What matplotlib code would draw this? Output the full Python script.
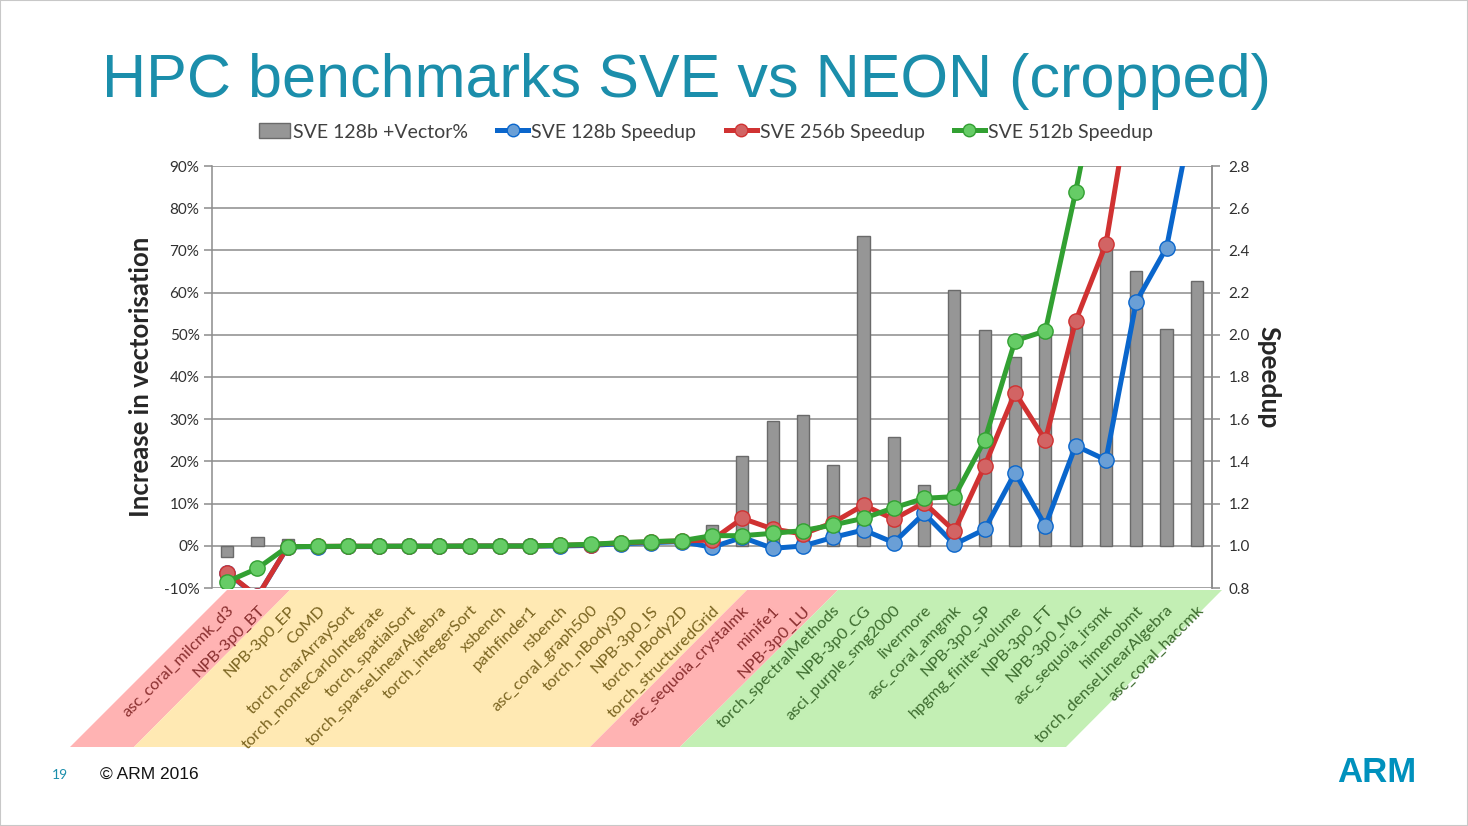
import numpy as np
import matplotlib
matplotlib.use("Agg")
import matplotlib.pyplot as plt
from matplotlib.patches import Polygon, Patch, Rectangle
from matplotlib.lines import Line2D

categories = [
    "asc_coral_milcmk_d3", "NPB-3p0_BT", "NPB-3p0_EP", "CoMD",
    "torch_charArraySort", "torch_monteCarloIntegrate", "torch_spatialSort",
    "torch_sparseLinearAlgebra", "torch_integerSort", "xsbench", "pathfinder1",
    "rsbench", "asc_coral_graph500", "torch_nBody3D", "NPB-3p0_IS",
    "torch_nBody2D", "torch_structuredGrid", "asc_sequoia_crystalmk", "minife1",
    "NPB-3p0_LU", "torch_spectralMethods", "NPB-3p0_CG", "asci_purple_smg2000",
    "livermore", "asc_coral_amgmk", "NPB-3p0_SP", "hpgmg_finite-volume",
    "NPB-3p0_FT", "NPB-3p0_MG", "asc_sequoia_irsmk", "himenobmt",
    "torch_denseLinearAlgebra", "asc_coral_haccmk",
]
# region of each benchmark: 0 = red, 1 = yellow, 2 = green
regions = [0, 0] + [1] * 15 + [0, 0, 0] + [2] * 13

vector_pct = [-2.6, 2.1, 1.5, 0, 0, 0, 0, 0, 0, 0, 0, 0, 0, 0, 0, 0,
              4.9, 21.3, 29.5, 30.9, 19.1, 73.3, 25.8, 14.4, 60.5, 51.1,
              44.7, 50.5, 53.0, 70.5, 65.0, 51.3, 62.7]

speedup_128 = [0.87, 0.76, 0.995, 0.996, 0.997, 0.997, 0.998, 0.998, 0.998,
               0.999, 0.999, 0.999, 1.002, 1.01, 1.015, 1.02, 0.993, 1.04,
               0.988, 0.999, 1.04, 1.075, 1.015, 1.154, 1.007, 1.078, 1.346,
               1.095, 1.474, 1.407, 2.157, 2.413, 3.15]
speedup_256 = [0.873, 0.76, 0.996, 0.997, 0.998, 0.998, 0.998, 0.998, 0.999,
               0.999, 0.999, 1.002, 1.006, 1.014, 1.019, 1.023, 1.027, 1.13,
               1.08, 1.056, 1.11, 1.193, 1.126, 1.204, 1.07, 1.38, 1.726,
               1.501, 2.065, 2.43, 3.3, np.nan, np.nan]
speedup_512 = [0.83, 0.893, 0.996, 0.997, 0.998, 0.998, 0.998, 0.998, 0.999,
               0.999, 0.999, 1.003, 1.007, 1.015, 1.02, 1.024, 1.048, 1.048,
               1.059, 1.072, 1.099, 1.13, 1.18, 1.225, 1.233, 1.501, 1.972,
               2.018, 2.678, 3.4, np.nan, np.nan, np.nan]

pct_ticks = list(range(-10, 91, 10))
speed_ticks = [0.8, 1.0, 1.2, 1.4, 1.6, 1.8, 2.0, 2.2, 2.4, 2.6, 2.8]

W, H = 1468, 826
fig = plt.figure(figsize=(W / 100, H / 100), dpi=100)
fig.patch.set_facecolor("white")

def fx(x):
    return x / W

def fy(y):
    return 1 - y / H

# background coloured parallelograms
bands = [
    ("#ffb3b3", [(70, 747), (134, 747), (290, 590), (227, 590)]),
    ("#ffe9b3", [(134, 747), (590, 747), (747, 590), (290, 590)]),
    ("#ffb3b3", [(590, 747), (680, 747), (838, 590), (747, 590)]),
    ("#c3efb4", [(680, 747), (1066, 747), (1222, 590), (838, 590)]),
]
for col, pts in bands:
    fig.patches.append(Polygon([(fx(a), fy(b)) for a, b in pts], closed=True,
                               transform=fig.transFigure, facecolor=col,
                               edgecolor="none", zorder=-5))

left, right, top, bottom = 212, 1212, 166, 588
ax = fig.add_axes([fx(left), fy(bottom), (right - left) / W, (bottom - top) / H])
ax.set_facecolor("none")
x = np.arange(len(categories))

grid_c = "#8c8c8c"
ax.bar(x, vector_pct, width=0.4, color="#969696", edgecolor="#6a6a6a",
       linewidth=1.0, zorder=3)
ax.set_xlim(-0.5, len(categories) - 0.5)
ax.set_ylim(-10, 90)
ax.set_yticks(pct_ticks)
ax.set_yticklabels([f"{t}%" for t in pct_ticks])
ax.yaxis.grid(True, color=grid_c, linewidth=1.1, zorder=0)
ax.set_axisbelow(True)
for s in ["top", "bottom"]:
    ax.spines[s].set_visible(False)
for s in ["left", "right"]:
    ax.spines[s].set_color(grid_c)
    ax.spines[s].set_linewidth(1.1)
ax.tick_params(axis="y", length=6, color=grid_c, width=1.1, labelsize=11,
               labelcolor="#303030", pad=3)

ax.set_xticks(x)
ax.set_xticklabels(categories, rotation=45, ha="right", rotation_mode="anchor",
                   fontsize=11.8, fontfamily="Lato")
label_cols = ["#8a2f2f", "#7a6420", "#3c6b2e"]
for lbl, r in zip(ax.get_xticklabels(), regions):
    lbl.set_color(label_cols[r])
ax.tick_params(axis="x", length=0, pad=11)
for lbl in ax.get_yticklabels():
    lbl.set_fontfamily("Lato")

ax.set_ylabel("Increase in vectorisation", fontsize=18.5, fontweight="bold",
              fontfamily="Lato", color="#262626", labelpad=8)

ax2 = ax.twinx()
ax2.set_ylim(0.8, 2.8)
ax2.set_yticks(speed_ticks)
ax2.set_yticklabels([f"{t:.1f}" for t in speed_ticks])
for s in ["top", "bottom", "left"]:
    ax2.spines[s].set_visible(False)
ax2.spines["right"].set_color(grid_c)
ax2.spines["right"].set_linewidth(1.1)
ax2.tick_params(axis="y", length=6, color=grid_c, width=1.1, labelsize=11,
                labelcolor="#303030", pad=6)
for lbl in ax2.get_yticklabels():
    lbl.set_fontfamily("Lato")
ax2.set_ylabel("Speedup", fontsize=19, fontweight="bold", fontfamily="Lato",
               color="#262626", rotation=-90, labelpad=22)

series = [
    ("SVE 128b Speedup", speedup_128, "#0a66cc", "#6a9fd6"),
    ("SVE 256b Speedup", speedup_256, "#d03232", "#d26464"),
    ("SVE 512b Speedup", speedup_512, "#32a032", "#66cc66"),
]
handles = [Patch(facecolor="#969696", edgecolor="#6a6a6a", label="SVE 128b +Vector%")]
for name, vals, lc, mc in series:
    ax2.plot(x, vals, color=lc, linewidth=3.6, marker="o", markersize=11,
             markerfacecolor=mc, markeredgecolor=lc, markeredgewidth=1.0,
             zorder=4, solid_joinstyle="round")
    handles.append(Line2D([0], [0], color=lc, linewidth=3.6, marker="o",
                          markersize=9, markerfacecolor=mc, markeredgecolor=lc,
                          label=name))

leg = fig.legend(handles=handles, loc="center", bbox_to_anchor=(fx(706), fy(132)),
                 ncol=4, frameon=False, handlelength=1.6, handleheight=0.8,
                 handletextpad=0.15, columnspacing=1.5,
                 prop={"family": "Lato", "size": 14})
for t in leg.get_texts():
    t.set_color("#404040")

fig.text(fx(102), fy(97), "HPC benchmarks SVE vs NEON (cropped)",
         fontsize=44, color="#1b8eab", fontfamily="Liberation Sans",
         va="baseline", ha="left")
fig.text(fx(52), fy(779), "19", fontsize=10, color="#1b8eab",
         fontfamily="Lato", va="baseline")
fig.text(fx(100), fy(779), "\u00a9 ARM 2016", fontsize=12.5, color="#111111",
         fontfamily="Liberation Sans", va="baseline")
fig.text(fx(1337), fy(782), "ARM", fontsize=25, color="#0091bd",
         fontweight="bold", fontfamily="Liberation Sans", va="baseline")

fig.patches.append(Rectangle((0, 0), 1, 1, transform=fig.transFigure,
                             facecolor="none", edgecolor="#c8c8c8",
                             linewidth=1.5, zorder=10))

fig.savefig("out.png", dpi=100)
